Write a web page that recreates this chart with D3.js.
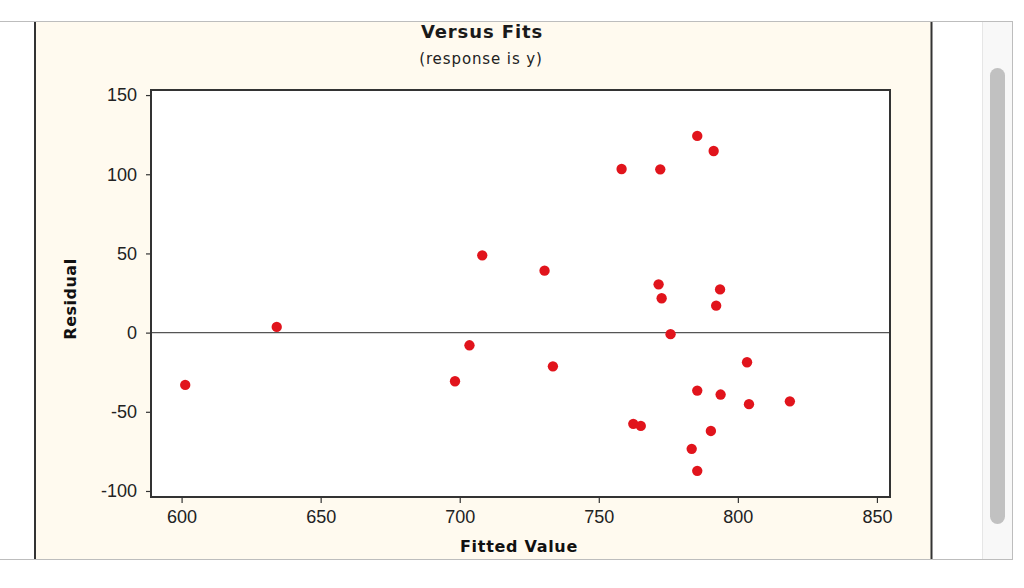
<!DOCTYPE html>
<html>
<head>
<meta charset="utf-8">
<script src="https://cdn.jsdelivr.net/npm/d3@7"></script>
<style>
  html, body { margin: 0; padding: 0; background: #ffffff; }
  svg { display: block; }
  text { font-family: "DejaVu Sans", Verdana, sans-serif; }
</style>
</head>
<body>
<svg id="chart" width="1024" height="588"></svg>
<script>
// ---- data ----
const title = "Versus Fits";
const subtitle = "(response is y)";
const xLabel = "Fitted Value";
const yLabel = "Residual";
const xTicks = [600, 650, 700, 750, 800, 850];
const yTicks = [-100, -50, 0, 50, 100, 150];
const fittedValues = [601.3, 634.2, 708.1, 730.5, 758.2, 772.1, 785.4, 791.3, 771.5, 772.6, 793.6, 792.2, 775.8,
  703.5, 698.3, 733.5, 762.4, 765.1, 803.3, 785.4, 793.8, 804.0, 818.7, 790.3, 783.4, 785.4];
const residuals = [-33, 3.6, 48.8, 39.1, 103.3, 103.1, 124.2, 114.7, 30.5, 21.7, 27.3, 17.0, -1.0,
  -8.0, -30.7, -21.3, -57.6, -58.9, -18.7, -36.6, -39.1, -45.2, -43.4, -62.1, -73.4, -87.3];

const svg = d3.select("#chart");

// page chrome
svg.append("rect").attr("x", 0).attr("y", 0).attr("width", 1024).attr("height", 588).attr("fill", "#ffffff");
svg.append("rect").attr("x", 36).attr("y", 21).attr("width", 895).attr("height", 538).attr("fill", "#fffaef");
svg.append("line").attr("x1", 0).attr("x2", 1013).attr("y1", 21.5).attr("y2", 21.5).attr("stroke", "#bdbdbd").attr("stroke-width", 1.2);
svg.append("line").attr("x1", 0).attr("x2", 1013).attr("y1", 559.5).attr("y2", 559.5).attr("stroke", "#bdbdbd").attr("stroke-width", 1.2);
svg.append("line").attr("x1", 35).attr("x2", 35).attr("y1", 22).attr("y2", 559).attr("stroke", "#333").attr("stroke-width", 2);
svg.append("line").attr("x1", 931.5).attr("x2", 931.5).attr("y1", 22).attr("y2", 559).attr("stroke", "#333").attr("stroke-width", 2);
// scrollbar
svg.append("rect").attr("x", 983).attr("y", 22).attr("width", 29).attr("height", 537).attr("fill", "#f8f8f8");
svg.append("line").attr("x1", 982.5).attr("x2", 982.5).attr("y1", 22).attr("y2", 559).attr("stroke", "#e6e6e6");
svg.append("line").attr("x1", 1012.5).attr("x2", 1012.5).attr("y1", 21).attr("y2", 560).attr("stroke", "#bdbdbd");
svg.append("rect").attr("x", 990).attr("y", 68).attr("width", 15).attr("height", 456).attr("rx", 7.5).attr("fill", "#c1c1c1");

// plot area
const L = 151, R = 890, T = 90, B = 497;
const x = d3.scaleLinear().domain([589.0, 854.7]).range([L, R]);
const y = d3.scaleLinear().domain([-103.8, 153.2]).range([B, T]);

svg.append("rect").attr("x", L).attr("y", T).attr("width", R - L).attr("height", B - T).attr("fill", "#ffffff");

// zero reference line
svg.append("line").attr("x1", L).attr("x2", R).attr("y1", y(0)).attr("y2", y(0))
  .attr("stroke", "#555").attr("stroke-width", 1.3);

// axes
const yAxis = svg.append("g").attr("transform", `translate(${L},0)`)
  .call(d3.axisLeft(y).tickValues(yTicks).tickSize(5).tickPadding(9).tickFormat(d => String(d)));
const xAxis = svg.append("g").attr("transform", `translate(0,${B})`)
  .call(d3.axisBottom(x).tickValues(xTicks).tickSize(6).tickPadding(7).tickFormat(d => String(d)));
[xAxis, yAxis].forEach(g => {
  g.select(".domain").remove();
  g.selectAll(".tick line").attr("stroke", "#333").attr("stroke-width", 1.2);
  g.selectAll(".tick text").attr("fill", "#222").style("font-size", "18px")
    .style("font-family", "\"Liberation Sans\", Arial, sans-serif");
});

// points
const pts = fittedValues.map((v, i) => ({ fx: v, r: residuals[i] }));
svg.append("g").selectAll("path").data(pts).join("path")
  .attr("transform", d => `translate(${x(d.fx)},${y(d.r)})`)
  .attr("d", d3.symbol(d3.symbolCircle, 84))
  .attr("fill", "#e1141c");

// plot border
svg.append("rect").attr("x", L).attr("y", T).attr("width", R - L).attr("height", B - T)
  .attr("fill", "none").attr("stroke", "#333").attr("stroke-width", 2);

// titles
svg.append("text").attr("x", 482).attr("y", 38).attr("text-anchor", "middle")
  .style("font-size", "18px").style("font-weight", "bold").style("letter-spacing", "0.9px")
  .attr("fill", "#1a1a1a").text(title);
svg.append("text").attr("x", 481).attr("y", 64).attr("text-anchor", "middle")
  .style("font-size", "15px").style("letter-spacing", "0.9px").attr("fill", "#222").text(subtitle);
svg.append("text").attr("x", 519).attr("y", 552).attr("text-anchor", "middle")
  .style("font-size", "16px").style("font-weight", "bold").style("letter-spacing", "0.7px")
  .attr("fill", "#111").text(xLabel);
svg.append("text").attr("transform", "translate(76,299) rotate(-90)").attr("text-anchor", "middle")
  .style("font-size", "16px").style("font-weight", "bold").style("letter-spacing", "0.5px")
  .attr("fill", "#111").text(yLabel);
</script>
</body>
</html>
